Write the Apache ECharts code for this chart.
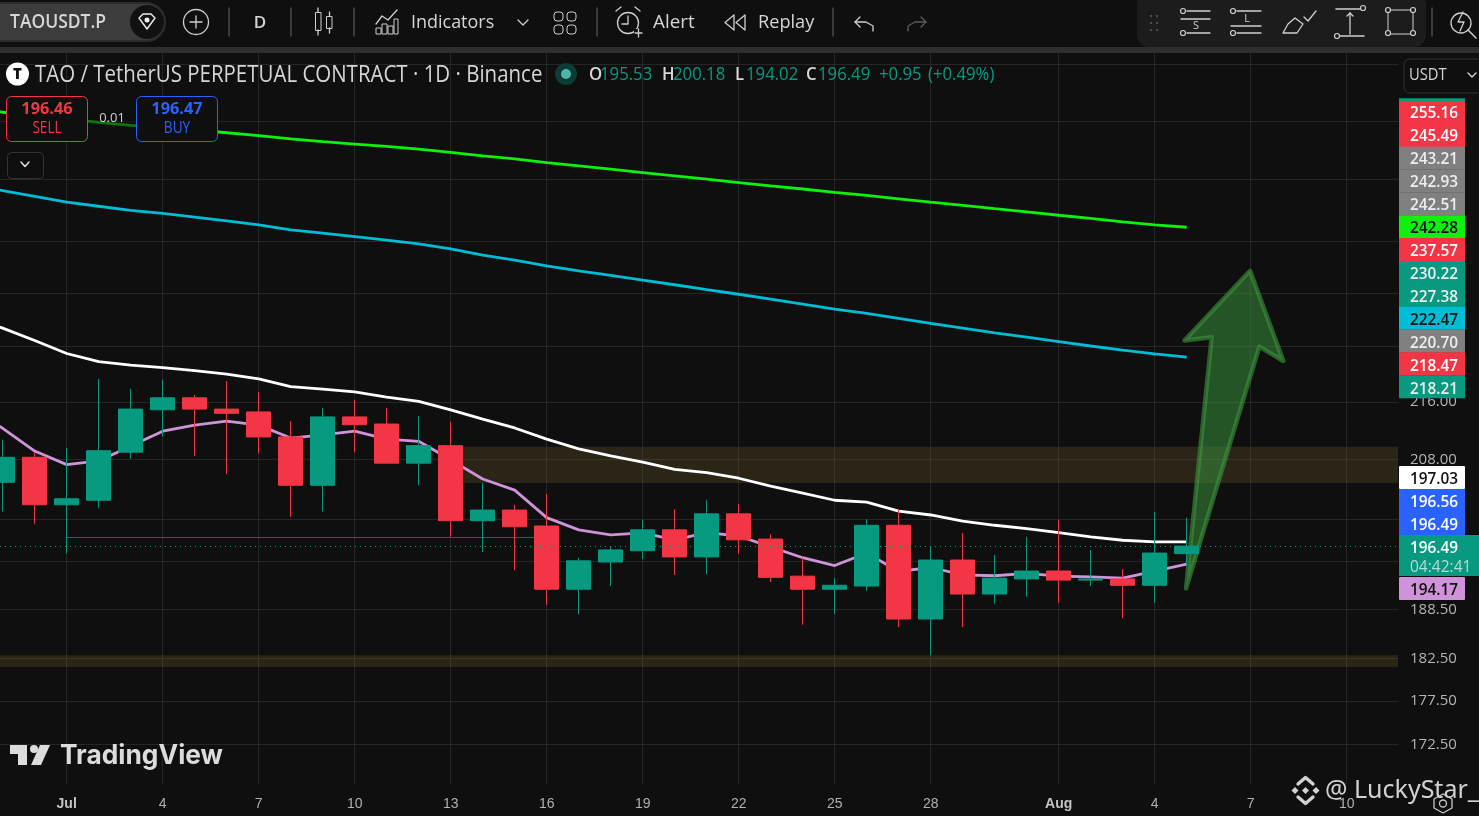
<!DOCTYPE html>
<html><head><meta charset="utf-8">
<style>html,body{margin:0;padding:0;background:#0f0f0f}#c{width:1479px;height:816px}</style>
<script src="https://cdn.jsdelivr.net/npm/echarts@6/dist/echarts.min.js"></script>
</head><body><div id="c"></div>
<script>
// days counted from 1 Jul
const days   = [-2,-1,0,1,2,3,4,5,6,7,8,9,10,11,12,13,14,15,16,17,18,19,20,21,22,23,24,25,26,27,28,29,30,31,32,33,34,35];
const opens  = [204.9,208.3,201.9,202.5,209.0,214.9,216.6,215.0,214.6,211.1,204.5,213.9,212.9,207.5,209.9,199.8,201.2,199.1,191.0,194.45,195.9,198.6,195.1,200.7,197.4,192.65,191.0,191.4,199.2,187.3,194.7,190.4,192.3,193.3,192.15,192.3,191.5,195.53];
const closes = [208.3,201.9,202.7,209.2,215.0,216.6,215.0,214.4,211.1,204.5,213.9,212.8,207.5,209.9,199.8,201.2,199.0,191.0,194.6,196.0,198.6,195.1,200.7,197.3,192.5,191.0,191.5,199.2,187.3,194.7,190.4,192.4,193.3,192.15,192.3,191.5,195.6,196.49];
const lows   = [201.0,199.4,195.5,201.5,208.1,211.2,208.5,206.0,208.8,200.3,201.0,209.0,207.5,204.5,197.7,195.7,193.4,189.05,187.9,191.4,194.8,192.8,192.9,195.5,191.9,186.6,187.9,190.8,186.3,182.9,186.3,189.2,190.05,189.3,191.4,187.4,189.3,194.02];
const highs  = [210.7,209.0,209.6,219.3,217.9,219.15,217.0,219.0,217.4,213.3,215.2,216.3,215.2,214.0,213.2,204.8,201.9,203.35,195.0,196.5,199.9,201.3,202.5,202.0,198.0,195.0,192.4,200.0,201.3,196.5,198.2,195.35,197.7,199.9,196.0,193.55,200.95,200.18];

const lineDays = [-3].concat(days);
const greenMA  = [261.9,261.3,260.75,260.15,259.55,259.05,258.7,258.3,257.8,257.3,256.75,256.3,255.9,255.5,255.05,254.5,253.9,253.4,252.8,252.25,251.7,251.15,250.6,250.05,249.5,248.95,248.45,247.9,247.4,246.85,246.3,245.8,245.25,244.75,244.2,243.7,243.15,242.65,242.28];
const cyanMA   = [249.1,248.2,247.25,246.3,245.65,245.0,244.5,243.9,243.3,242.65,241.85,241.35,240.8,240.25,239.65,238.85,237.9,237.1,236.2,235.45,234.75,234.0,233.3,232.55,231.85,231.1,230.35,229.6,228.95,228.2,227.45,226.75,226.05,225.4,224.75,224.1,223.5,222.95,222.47];
const whiteMA  = [228.4,226.75,224.9,223.0,221.8,221.3,220.95,220.5,220.0,219.3,218.2,217.85,217.45,216.7,216.1,214.9,213.6,212.35,210.8,209.45,208.5,207.65,206.65,206.2,205.45,204.4,203.45,202.5,202.25,201.05,200.55,199.75,199.2,198.75,198.25,197.7,197.25,197.05,197.03];
const purpleMA = [215.0,212.3,209.15,207.3,207.8,209.85,211.9,212.75,213.3,212.75,210.95,211.4,211.9,210.8,210.5,207.95,205.35,203.85,200.2,198.6,197.95,198.2,197.3,198.25,197.8,196.4,195.0,194.0,195.6,193.25,193.75,192.8,192.7,193.0,192.65,192.55,192.4,193.3,194.17];

const xTickDays   = [0,3,6,9,12,15,18,21,24,27,31,34,37,40];
const xTickLabels = ['Jul','4','7','10','13','16','19','22','25','28','Aug','4','7','10'];
const yTicks = [269.7,259.8,250,240,232,224,216,208,200,194.5,188.5,182.5,177.5,172.5];

const upperZone = [204.8,209.75];
const lowerZone = [181.5,182.9];
const upperZoneStart = 12;
const lastPrice = 196.49;
const swingLine = 197.65;

const arrowDays   = [36.98,38.02,37.27,34.98,35.78,34.93];
const arrowPrices = [235.45,221.9,224.0,191.1,225.4,224.9];

const tagsTop    = ['255.16','245.49','243.21','242.93','242.51','242.28','237.57','230.22','227.38','222.47','220.70','218.47','218.21'];
const tagsTopBg  = ['#f23645','#f23645','#808080','#808080','#808080','#0cf20c','#f23645','#089981','#089981','#00bcd4','#808080','#f23645','#089981'];
const tagsTopFg  = ['#fff','#fff','#eee','#eee','#eee','#111','#fff','#eee','#eee','#111','#eee','#fff','#eee'];

const xMin=-2.0844, xMax=41.603, yMin=168.06, yMax=271.67;
const UI='"Open Sans"';
const el=[];
const Z=50;
function rect(x,y,w,h,fill,o){o=o||{};el.push({type:'rect',z:o.z||Z,silent:true,shape:{x,y,width:w,height:h,r:o.r||0},style:{fill:fill||'transparent',stroke:o.stroke||null,lineWidth:o.lw||1}});}
function txt(x,y,t,fill,size,o){o=o||{};const e={type:'text',z:o.z||Z+1,silent:true,x:x,y:y,style:{text:t,fill:fill,font:(o.w||'400')+' '+size+'px '+(o.f||UI),textAlign:o.a||'left',textVerticalAlign:'middle'}};if(o.sx){e.scaleX=o.sx;}el.push(e);}
function pl(points,stroke,lw,o){o=o||{};el.push({type:o.fill?'polygon':'polyline',z:o.z||Z+1,silent:true,shape:{points},style:{stroke:stroke||null,fill:o.fill||null,lineWidth:lw||1.3,lineJoin:'round',lineCap:'round'}});}
function circ(cx,cy,r,stroke,fill,lw,o){o=o||{};el.push({type:'circle',z:o.z||Z+1,silent:true,shape:{cx,cy,r},style:{stroke:stroke||null,fill:fill||null,lineWidth:lw||1.3}});}
const IC='#cfcfcf';

// toolbar
rect(0,0,1479,47,'#0f0f0f');
rect(0,47,1479,6,'#2e2e2e');
rect(-20,3,185,38,'#3c3c3c',{r:19,stroke:'#2c2c2c',lw:2});
circ(147,22,17,null,'#111');
pl([[139,18],[143,14],[151,14],[155,18],[147,29],[139,18]],'#eee',1.4);
circ(147,20,2.5,null,'#eee');
txt(10,23,'TAOUSDT.P','#d6d6d6',19,{w:'600',sx:0.92});
circ(196,22,12.5,IC);
pl([[190,22],[202,22]],IC);pl([[196,16],[196,28]],IC);
[229,291,354,597,833].forEach(x=>pl([[x,8],[x,36]],'#4a4a4a',1.5));
txt(260,23,'D','#d6d6d6',17,{w:'600',a:'center'});
rect(315.5,12.5,5.5,18,null,{stroke:IC,z:Z+1});pl([[318,8],[318,12]],IC);pl([[318,30],[318,35]],IC);
rect(326.5,16.5,5.5,12,null,{stroke:IC,z:Z+1});pl([[329.5,12],[329.5,16]],IC);pl([[329.5,28],[329.5,33]],IC);
pl([[376,24],[382,16],[388,20],[397,10]],IC);
rect(376,28,5,6,null,{stroke:IC,z:Z+1});rect(382,24,5,10,null,{stroke:IC,z:Z+1});rect(388,26,5,8,null,{stroke:IC,z:Z+1});rect(394,19,4,15,null,{stroke:IC,z:Z+1});
txt(411,23,'Indicators','#d6d6d6',19,{sx:0.945,w:'500'});
pl([[518,20],[523,25],[528,20]],IC);
[[554,12],[567,12],[554,25],[567,25]].forEach(p=>rect(p[0],p[1],9,9,null,{stroke:IC,r:3,z:Z+1}));
circ(628,23,10.5,IC);pl([[628,16],[628,24],[622,24]],IC);pl([[616,11],[621,7]],IC);pl([[635,7],[640,11]],IC);
rect(634,29,10,8,'#0f0f0f',{z:Z+1});pl([[635,33],[642,33]],IC,1.3,{z:Z+2});pl([[638.5,29],[638.5,37]],IC,1.3,{z:Z+2});
txt(653,23,'Alert','#d6d6d6',19,{w:'500',sx:0.99});
pl([[734,15],[725,22.5],[734,30],[734,15]],IC);pl([[745,15],[736,22.5],[745,30],[745,15]],IC);
txt(758,23,'Replay','#d6d6d6',19,{w:'500',sx:0.955});
pl([[860,17],[855,22],[860,27]],IC);pl([[855,22],[866,22],[873,26],[873,31]],IC);
pl([[921,17],[926,22],[921,27]],'#5c5c5c');pl([[926,22],[915,22],[908,26],[908,31]],'#5c5c5c');
// tools panel
rect(1137,-8,289,55,'#1c1c1c',{r:12,z:Z+1});
[[1150,15],[1156,15],[1150,22],[1156,22],[1150,29],[1156,29]].forEach(p=>rect(p[0],p[1],2,2,'#4d4d4d',{z:Z+2}));
const Z3=Z+3;
circ(1183,11,2.5,IC,null,1.2,{z:Z3});circ(1183,33,2.5,IC,null,1.2,{z:Z3});pl([[1187,11],[1210,11]],IC,1.3,{z:Z3});pl([[1181,19],[1210,19]],IC,1.3,{z:Z3});pl([[1187,33],[1210,33]],IC,1.3,{z:Z3});txt(1196,26,'S',IC,11,{a:'center',z:Z3});
circ(1233,11,2.5,IC,null,1.2,{z:Z3});circ(1233,33,2.5,IC,null,1.2,{z:Z3});pl([[1237,11],[1261,11]],IC,1.3,{z:Z3});pl([[1231,26],[1261,26]],IC,1.3,{z:Z3});pl([[1237,33],[1261,33]],IC,1.3,{z:Z3});txt(1247,19,'L',IC,11,{a:'center',z:Z3});
pl([[1283,33],[1288,24],[1295,18],[1303,24],[1297,33],[1283,33]],IC,1.3,{z:Z3});pl([[1304,17],[1308,21],[1316,11]],IC,1.3,{z:Z3});
pl([[1336,9],[1360,9]],IC,1.6,{z:Z3});circ(1363,8,2.5,IC,null,1.2,{z:Z3});pl([[1340,36],[1364,36]],IC,1.6,{z:Z3});circ(1337,36,2.5,IC,null,1.2,{z:Z3});pl([[1350,34],[1350,13]],IC,1.3,{z:Z3});pl([[1347,16],[1350,13],[1353,16]],IC,1.3,{z:Z3});
rect(1388,10,25,24,null,{stroke:IC,z:Z3});[[1388,10],[1413,10],[1388,33],[1413,33]].forEach(p=>circ(p[0],p[1],2.5,IC,'#1c1c1c',1.2,{z:Z3}));
pl([[1432,8],[1432,36]],'#4a4a4a',1.5);
circ(1461,23,10,IC);pl([[1468,30],[1476,38]],IC,1.5);pl([[1463,12],[1458,22],[1464,22],[1460,31]],IC);

// legend
circ(17.5,74,11.5,null,'#fff');
txt(17.5,75,'T','#111',15,{a:'center',w:'800'});
txt(35,75,'TAO / TetherUS PERPETUAL CONTRACT · 1D · Binance','#d6d6d6',23,{sx:0.89});
circ(566,74,11,null,'#0d3b36');circ(566,74,5,null,'#4db6ac');
const T='#089981',W='#d6d6d6';
[[589,'O',W],[600,'195.53',T],[662,'H',W],[673,'200.18',T],[735,'L',W],[746,'194.02',T],[806,'C',W],[818,'196.49',T],[879,'+0.95',T],[928,'(+0.49%)',T]].forEach(a=>txt(a[0],75,a[1],a[2],18,{sx:0.93,w:(a[2]===W?'600':'400')}));

// sell / buy
rect(88,108,48,22,'rgba(15,15,15,0.55)');
rect(6.5,96.5,81,45,'#0f0f0f',{r:5,stroke:'#f23645'});
txt(47,109,'196.46','#f23645',16,{a:'center',w:'700',sx:1.02});txt(47,128,'SELL','#f23645',16,{a:'center',sx:0.85});
rect(136.5,96.5,81,45,'#0f0f0f',{r:5,stroke:'#2962ff'});
txt(177,109,'196.47','#2962ff',16,{a:'center',w:'700',sx:1.02});txt(177,128,'BUY','#2962ff',16,{a:'center',sx:0.85});
txt(112,118,'0.01','#d0d0d0',13,{a:'center'});
rect(7.5,152.5,36,26,'#0f0f0f',{r:4,stroke:'#333'});pl([[21,162],[25,166.5],[29,162]],'#e0e0e0',1.5);

// currency box
rect(1399,53,80,6,'#0f0f0f');
rect(1404,59,90,34,'#0f0f0f',{r:6,stroke:'#333'});
txt(1409,75,'USDT','#d6d6d6',16,{sx:0.92});pl([[1468,73],[1472,77],[1476,73]],'#d6d6d6',1.4);

// price tags
const TH=22.85,TX=1399,TW=66;
const tagOpt={a:'center',w:'600',sx:0.96};
rect(TX,98.3,TW,3,'#089981');
tagsTop.forEach((t,i)=>{const y=101+TH*i;rect(TX,y,TW,TH+0.3,tagsTopBg[i]);txt(1434,113.5+23*i,t,tagsTopFg[i],16,tagOpt);});
rect(TX,466,TW,23,'#ffffff',{r:1});txt(1434,479.3,'197.03','#111',16,tagOpt);
rect(TX,489,TW,23,'#2962ff');txt(1434,502.7,'196.56','#fff',16,tagOpt);
rect(TX,512,TW,23,'#2962ff');txt(1434,525.7,'196.49','#fff',16,tagOpt);
rect(TX,535,80,41,'#089981');txt(1434,548.7,'196.49','#fff',16,tagOpt);txt(1410,567.7,'04:42:41','#b5dcd5',16,{sx:0.97,w:'500'});
rect(TX,577,TW,23,'#ce93d8',{r:1});txt(1434,590.7,'194.17','#111',16,tagOpt);

// tradingview logo
pl([[10,745],[27,745],[27,765],[18,765],[18,754],[10,754]],null,1,{fill:'#dcdcdc'});
circ(34,749,4,null,'#dcdcdc');
pl([[40,745],[50,745],[41,765],[31,765]],null,1,{fill:'#dcdcdc'});
txt(60,756,'TradingView','#dcdcdc',27,{w:'700',f:'Inter',sx:0.975});

// watermark
const WM='#d2d2d2';
pl([[1298,784],[1305.5,777.5],[1313,784]],WM,3.4,{z:Z+4});
pl([[1298,797],[1305.5,803.5],[1313,797]],WM,3.4,{z:Z+4});
[1295,1305.5,1316].forEach(cx=>pl([[cx,787],[cx+3.5,790.5],[cx,794],[cx-3.5,790.5]],null,1,{fill:WM,z:Z+4}));
txt(1325,791,'@ LuckyStar_',WM,25,{f:'"Noto Sans"',z:Z+4});
pl([[1443,794],[1452,799],[1452,808],[1443,813],[1434,808],[1434,799],[1443,794]],'#c8c8c8',1.3,{z:Z+4});circ(1443,803.5,3.5,'#c8c8c8',null,1.3,{z:Z+4});

const pair=(xs,ys)=>xs.map((x,i)=>[x,ys[i]]);
const candleData=days.map((d,i)=>[d,opens[i],closes[i],lows[i],highs[i]]);

const chart=echarts.init(document.getElementById('c'),null,{renderer:'canvas'});
chart.setOption({
 animation:false,backgroundColor:'#0f0f0f',
 grid:{left:0,top:53,width:1398,height:731,containLabel:false},
 xAxis:{type:'value',min:xMin,max:xMax,
  axisLine:{show:false},
  splitLine:{show:true,lineStyle:{color:'#262626',width:1}},
  axisLabel:{show:true,customValues:xTickDays,margin:13,color:'#b0b0b0',fontSize:14,fontFamily:'Liberation Sans',showMinLabel:true,showMaxLabel:true,
   formatter:v=>{const s=xTickLabels[xTickDays.indexOf(v)];return isNaN(+s)?'{b|'+s+'}':s;},
   rich:{b:{fontWeight:700,color:'#c4c4c4',fontSize:14,fontFamily:'Liberation Sans'}}},
  axisTick:{show:false,customValues:xTickDays}},
 yAxis:{type:'log',logBase:10,position:'right',min:yMin,max:yMax,
  axisLine:{show:false},axisTick:{show:false,customValues:yTicks},
  splitLine:{show:true,lineStyle:{color:'#262626',width:1}},
  axisLabel:{show:true,customValues:yTicks,margin:12,padding:[4,0,0,0],color:'#b4b4b4',fontSize:15,fontFamily:'Open Sans',formatter:v=>(+v).toFixed(2)}},
 graphic:{elements:el},
 series:[
  {type:'line',name:'zones',data:[],silent:true,z:1,
   markArea:{silent:true,itemStyle:{color:'rgba(127,103,47,0.25)'},data:[
    [{coord:[upperZoneStart,upperZone[1]]},{coord:[xMax,upperZone[0]]}],
    [{coord:[xMin,lowerZone[1]]},{coord:[xMax,lowerZone[0]]}]]},
   markLine:{silent:true,symbol:'none',label:{show:false},lineStyle:{color:'#0e6b5b',type:'solid',width:1},
    data:[[{coord:[0,swingLine]},{coord:[15,swingLine]}]]}},
  {type:'custom',name:'arrow',z:2,silent:true,coordinateSystem:'cartesian2d',data:[[arrowDays[0],arrowPrices[0]]],
   renderItem:(p,api)=>({type:'polygon',shape:{points:arrowDays.map((d,i)=>api.coord([d,arrowPrices[i]]))},
    style:{fill:'rgba(56,142,60,0.55)',stroke:'rgba(62,150,62,0.6)',lineWidth:4.5,lineJoin:'round'}})},
  {type:'line',name:'EMA 200',data:pair(lineDays,greenMA),symbol:'none',z:3,lineStyle:{color:'#0cf20c',width:2.8},silent:true},
  {type:'line',name:'EMA 100',data:pair(lineDays,cyanMA),symbol:'none',z:3,lineStyle:{color:'#00bcd4',width:2.8},silent:true},
  {type:'line',name:'EMA 50',data:pair(lineDays,whiteMA),symbol:'none',z:3,lineStyle:{color:'#ffffff',width:2.8},silent:true},
  {type:'line',name:'EMA 20',data:pair(lineDays,purpleMA),symbol:'none',z:3,lineStyle:{color:'#ce93d8',width:2.8},silent:true},
  {type:'candlestick',name:'TAOUSDT',z:5,silent:true,barWidth:24,data:candleData,encode:{x:0,y:[1,2,3,4]},
   itemStyle:{color:'#089981',color0:'#f23645',borderColor:'#089981',borderColor0:'#f23645',borderWidth:1}},
  {type:'line',name:'price line',data:[],z:6,silent:true,
   markLine:{silent:true,z:6,symbol:'none',label:{show:false},lineStyle:{color:'#089981',type:[1,4],width:1},
    data:[[{coord:[xMin,lastPrice]},{coord:[xMax,lastPrice]}]]}}
 ]
});
</script></body></html>
